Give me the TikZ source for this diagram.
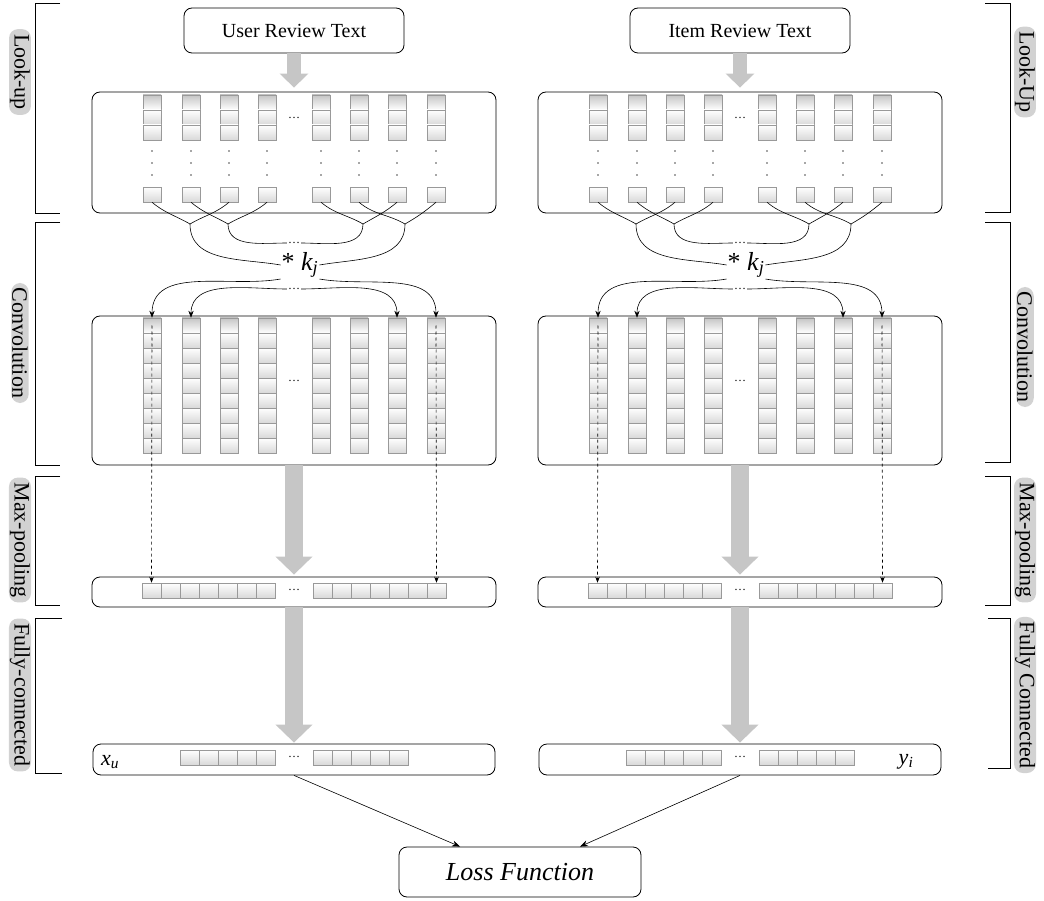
\documentclass[tikz,border=0pt]{standalone}
\usepackage{fontspec}
\setmainfont{Liberation Serif}
\usetikzlibrary{arrows.meta}

\begin{document}
\begin{tikzpicture}[x=1pt, y=-1pt,
  big/.style={font=\fontsize{20}{24}\selectfont},
  box/.style={draw, rounded corners=8pt, line width=0.8pt, inner sep=0pt},
  pill/.style={fill=gray!35, rounded corners=9pt, inner xsep=5pt, inner ysep=1pt, rotate=-90, font=\fontsize{22}{24}\selectfont},
  cell/.style={draw=gray!80, line width=0.5pt, minimum width=18pt, minimum height=15pt, inner sep=0pt, top color=white, bottom color=gray!30},
  hcell/.style={cell, top color=gray!45, bottom color=white},
  mcell/.style={cell, minimum width=19pt},
  dots/.style={font=\fontsize{12}{12}\selectfont, inner sep=1pt},
  fat/.style={draw=gray!45, line width=#1, -{Triangle[width=2*#1, length=#1]}},
  thin/.style={line width=0.6pt},
]
\useasboundingbox (0,0) rectangle (1044,901);

% side brackets and stage labels
\draw[thin] (60,3) -- (35,3) -- (35,213) -- (60,213);
\draw[thin] (60,222) -- (35,222) -- (35,465) -- (60,465);
\draw[thin] (60,476) -- (35,476) -- (35,605) -- (60,605);
\draw[thin] (62,618) -- (35,618) -- (35,773) -- (62,773);
\node[pill] (labL1) at (20,72) {Look-up};
\node[pill] (labL2) at (20,343) {Convolution};
\node[pill] (labL3) at (20,540) {Max-pooling};
\node[pill] (labL4) at (20,695) {Fully-connected};
\draw[thin] (985,3) -- (1010,3) -- (1010,212) -- (985,212);
\draw[thin] (985,222) -- (1010,222) -- (1010,462) -- (985,462);
\draw[thin] (985,476) -- (1010,476) -- (1010,605) -- (985,605);
\draw[thin] (988,618) -- (1010,618) -- (1010,768) -- (988,768);
\node[pill] (labR1) at (1025,72) {Look-Up};
\node[pill] (labR2) at (1025,347) {Convolution};
\node[pill] (labR3) at (1025,540) {Max-pooling};
\node[pill] (labR4) at (1025,695) {Fully Connected};

\foreach \p/\dx/\txt in {L/0/User Review Text, R/446/Item Review Text} {
  \begin{scope}[xshift=\dx pt]
    \node[box, big, minimum width=220pt, minimum height=45pt] (\p top) at (294,30.5) {\txt};
    \node[box, minimum width=404pt, minimum height=121pt] (\p look) at (294,152.5) {};
    \node[box, minimum width=404pt, minimum height=149pt] (\p conv) at (294,390.5) {};
    \node[box, minimum width=404pt, minimum height=30pt] (\p max) at (294,592) {};
    \node[box, minimum width=402pt, minimum height=31pt] (\p fc) at (294,759.5) {};

    \draw[fat=14pt, shorten >=4pt] (\p top.south) -- (\p look.north);
    \draw[fat=18pt, shorten >=2pt] (\p conv.south) -- (\p max.north);
    \draw[fat=18pt, shorten >=1pt] (\p max.south) -- (\p fc.north);

    % look-up and convolution columns
    \foreach \cx [count=\k] in {152,191,229,267,321,359,397,436} {
      \node[hcell] (\p a\k) at (\cx,102.5) {};
      \node[cell] at (\cx,117.5) {};
      \node[cell] at (\cx,132.5) {};
      \foreach \dy in {151,163,175} \node[inner sep=0.6pt, fill=black!70, circle] at (\cx,\dy) {};
      \node[cell] (\p b\k) at (\cx,194.5) {};
      \node[hcell] (\p t\k) at (\cx,325.5) {};
      \foreach \r in {1,...,8} \node[cell] at (\cx,325.5+15*\r) {};
    }
    \node[dots] (\p da) at (294,118) {\dots};
    \node[dots] (\p db) at (294,381) {\dots};

    % pooled and fully-connected vectors
    \foreach \i in {1,...,7} {
      \node[mcell] (\p m\i) at (142+19*\i-9.5,590.5) {};
      \node[mcell] (\p n\i) at (313+19*\i-9.5,590.5) {};
    }
    \node[dots] (\p dm) at (294,590) {\dots};
    \foreach \i in {1,...,5} {
      \node[mcell] (\p f\i) at (180+19*\i-9.5,757.5) {};
      \node[mcell] (\p g\i) at (313+19*\i-9.5,757.5) {};
    }
    \node[dots] (\p df) at (294,757) {\dots};

    % convolution filter
    \node[font=\fontsize{26}{26}\selectfont, inner sep=1pt] (\p k) at (300,265) {* \itshape k\textsubscript{j}};
    \node[dots] (\p d1) at (294,243) {\dots};
    \node[dots] (\p d2) at (294,289) {\dots};
    \coordinate (\p ja) at (190,224);
    \coordinate (\p jb) at (228,224);
    \coordinate (\p jc) at (363,224);
    \coordinate (\p jd) at (405,224);
    \draw[thin] (\p b1.south) to[out=-40,in=150] (\p ja);
    \draw[thin] (\p b3.south) to[out=-140,in=30] (\p ja);
    \draw[thin] (\p b2.south) to[out=-40,in=150] (\p jb);
    \draw[thin] (\p b4.south) to[out=-140,in=30] (\p jb);
    \draw[thin] (\p b5.south) to[out=-40,in=150] (\p jc);
    \draw[thin] (\p b7.south) to[out=-140,in=30] (\p jc);
    \draw[thin] (\p b6.south) to[out=-40,in=150] (\p jd);
    \draw[thin] (\p b8.south) to[out=-140,in=30] (\p jd);
    \draw[thin] (\p ja) to[out=-90,in=170] (\p k.west);
    \draw[thin] (\p jb) to[out=-90,in=180] (\p d1.west);
    \draw[thin] (\p jc) to[out=-90,in=0] (\p d1.east);
    \draw[thin] (\p jd) to[out=-90,in=10] (\p k.east);
    \draw[thin, -{Stealth[length=7pt]}] (\p k.south west) to[out=190,in=90] (\p t1.north);
    \draw[thin, -{Stealth[length=7pt]}] (\p d2.west) to[out=180,in=90] (\p t2.north);
    \draw[thin, -{Stealth[length=7pt]}] (\p d2.east) to[out=0,in=90] (\p t7.north);
    \draw[thin, -{Stealth[length=7pt]}] (\p k.south east) to[out=-10,in=90] (\p t8.north);
    \draw[thin, dashed, -{Stealth[length=6pt]}] (\p t1.center) -- (\p m1.north);
    \draw[thin, dashed, -{Stealth[length=6pt]}] (\p t8.center) -- (\p n7.north);
  \end{scope}
}
\node[big, font=\itshape\fontsize{22}{24}\selectfont] (xu) at (110,762) {x\textsubscript{u}};
\node[big, font=\itshape\fontsize{22}{24}\selectfont] (yi) at (906,762) {y\textsubscript{i}};

\node[box, minimum width=242pt, minimum height=50pt, font=\itshape\fontsize{26}{30}\selectfont] (loss) at (520,872) {Loss Function};
\draw[thin, -{Stealth[length=8pt]}] (Lfc.south) -- ([xshift=-60pt]loss.north);
\draw[thin, -{Stealth[length=8pt]}] (Rfc.south) -- ([xshift=60pt]loss.north);
\end{tikzpicture}
\end{document}
